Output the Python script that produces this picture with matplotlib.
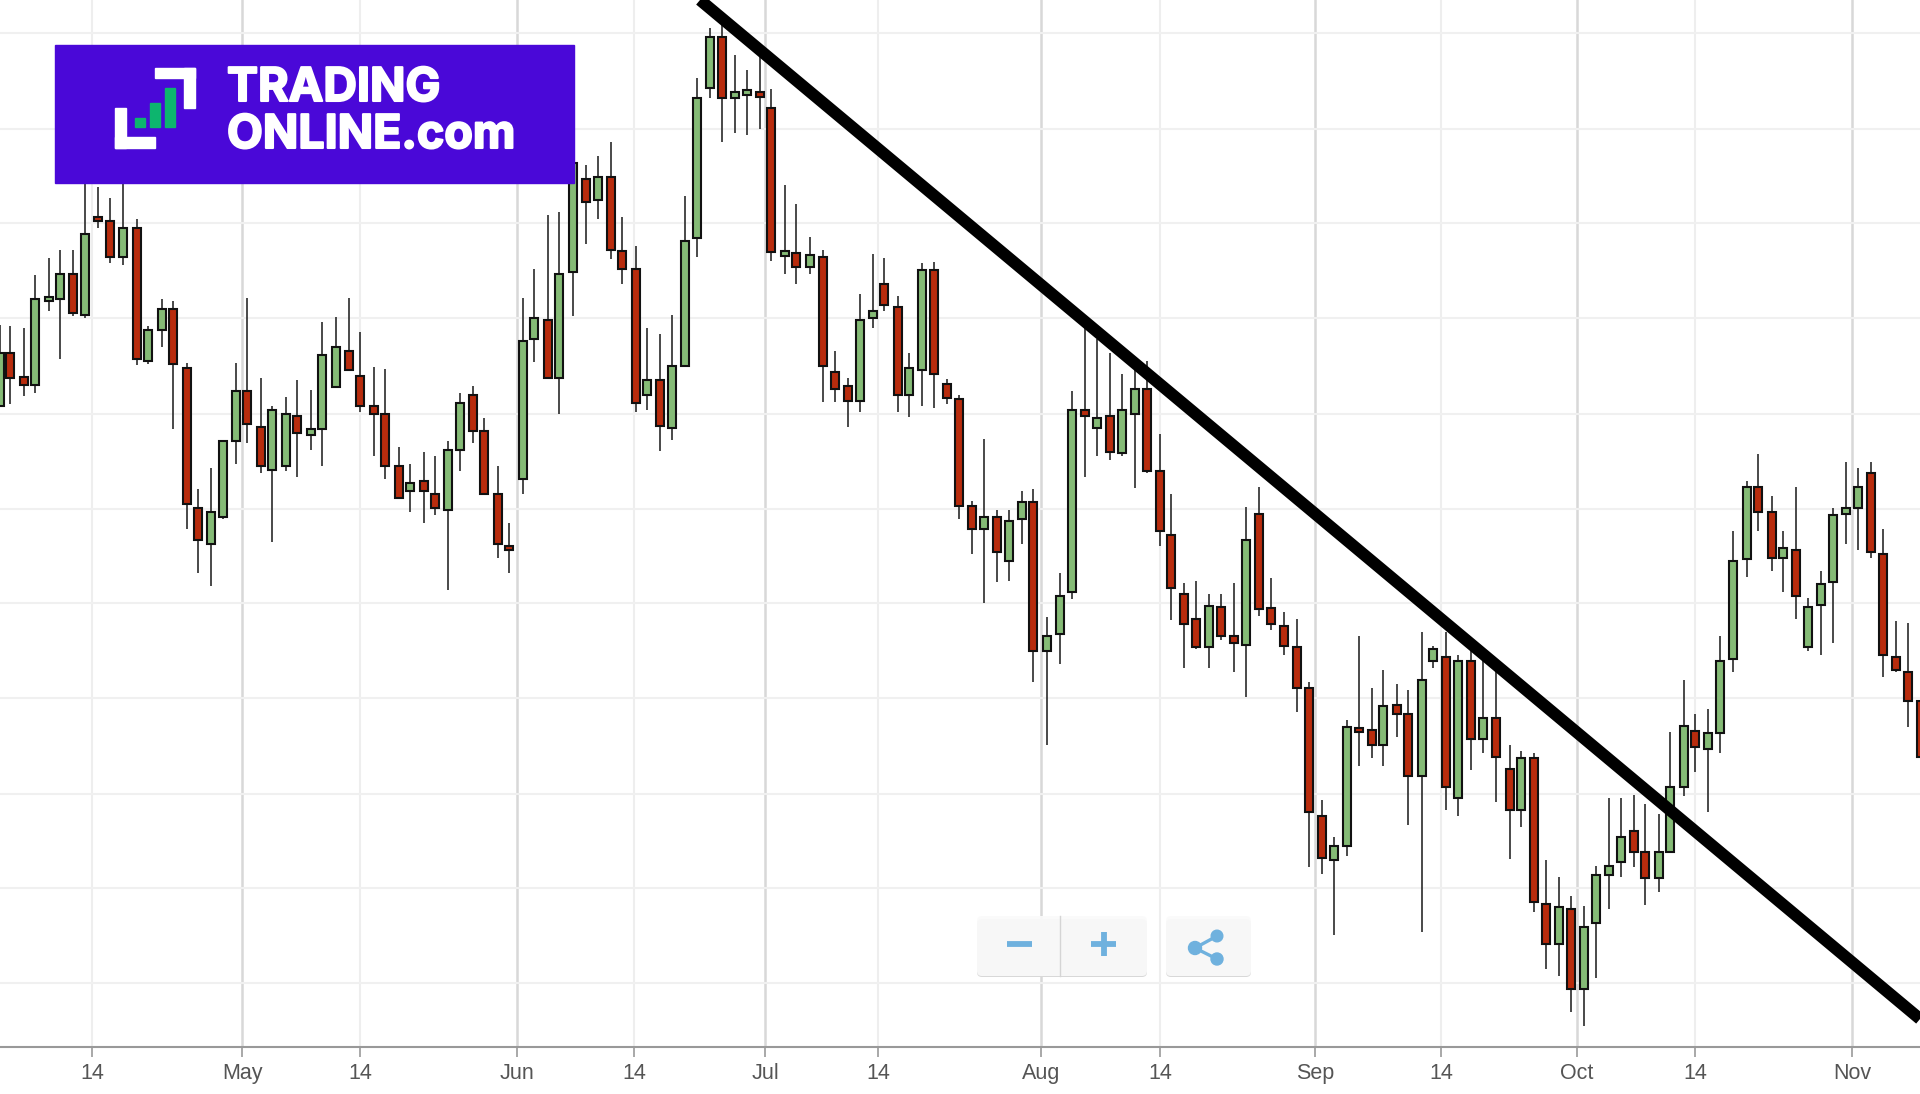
import numpy as np
import matplotlib
matplotlib.use("Agg")
import matplotlib.pyplot as plt
import matplotlib.patheffects as pe
from matplotlib.patches import Circle, FancyBboxPatch, Rectangle

# No price scale on the chart, so levels are measured down from the top of the plot.
# Each row: position on the time axis, wick top, body top, body bottom, wick bottom
candles = np.array([
    (0, 325, 353, 406, 406), (10, 326, 353, 378, 404), (24, 328, 377, 385, 396), (35, 275, 299, 385, 393),
    (49, 258, 297, 301, 311), (60, 250, 274, 299, 359), (73, 250, 274, 313, 316), (85, 150, 234, 315, 318),
    (98, 187, 217, 221, 228), (110, 198, 221, 257, 263), (123, 165, 228, 257, 265), (137, 219, 228, 359, 365),
    (148, 326, 330, 361, 364), (162, 299, 309, 330, 347), (173, 301, 309, 364, 429), (187, 363, 368, 504, 529),
    (198, 489, 508, 540, 573), (211, 468, 512, 544, 586), (223, 440, 441, 517, 519), (236, 363, 391, 441, 464),
    (247, 298, 391, 424, 443), (261, 378, 427, 466, 473), (272, 406, 410, 470, 542), (286, 397, 414, 466, 471),
    (297, 380, 416, 433, 477), (311, 390, 429, 435, 450), (322, 322, 355, 429, 466), (336, 317, 347, 387, 387),
    (349, 298, 351, 370, 370), (360, 332, 376, 406, 412), (374, 367, 406, 414, 456), (385, 369, 414, 466, 479),
    (399, 447, 466, 498, 499), (410, 464, 483, 491, 512), (424, 452, 481, 491, 523), (435, 456, 494, 508, 515),
    (448, 441, 450, 510, 590), (460, 393, 403, 450, 471), (473, 386, 395, 431, 443), (484, 418, 431, 494, 494),
    (498, 466, 494, 544, 558), (509, 523, 546, 550, 573), (523, 298, 341, 479, 494), (534, 269, 318, 339, 362),
    (548, 215, 320, 378, 378), (559, 212, 274, 378, 414), (573, 145, 163, 272, 316), (586, 165, 179, 202, 244),
    (598, 156, 177, 200, 219), (611, 142, 177, 250, 259), (622, 217, 251, 269, 284), (636, 246, 269, 403, 412),
    (647, 328, 380, 395, 410), (660, 334, 380, 426, 451), (672, 315, 366, 428, 440), (685, 196, 241, 366, 366),
    (697, 78, 98, 238, 257), (710, 28, 37, 88, 98), (722, 20, 37, 98, 142), (735, 55, 92, 98, 133),
    (747, 70, 90, 95, 135), (760, 51, 92, 97, 129), (771, 89, 108, 252, 261), (785, 185, 251, 256, 274),
    (796, 204, 253, 267, 284), (810, 237, 255, 267, 274), (823, 250, 257, 366, 402), (835, 351, 372, 389, 402),
    (848, 378, 386, 401, 427), (860, 294, 320, 401, 412), (873, 254, 311, 318, 328), (884, 258, 284, 305, 311),
    (898, 296, 307, 395, 412), (909, 353, 368, 395, 417), (922, 263, 270, 370, 406), (934, 262, 270, 374, 408),
    (947, 379, 384, 398, 404), (959, 395, 399, 506, 519), (972, 501, 506, 529, 554), (984, 439, 517, 529, 603),
    (997, 510, 517, 552, 582), (1009, 510, 521, 561, 581), (1022, 491, 502, 519, 544), (1033, 489, 502, 651, 682),
    (1047, 617, 636, 651, 745), (1060, 573, 596, 634, 664), (1072, 391, 410, 592, 599), (1085, 324, 410, 416, 477),
    (1097, 339, 418, 428, 456), (1110, 353, 416, 452, 460), (1122, 374, 410, 453, 456), (1135, 365, 389, 414, 488),
    (1147, 361, 389, 471, 473), (1160, 434, 471, 531, 546), (1171, 494, 535, 588, 620), (1184, 583, 594, 624, 668),
    (1196, 581, 619, 647, 649), (1209, 594, 606, 647, 668), (1221, 594, 607, 636, 640), (1234, 583, 636, 643, 672),
    (1246, 507, 540, 645, 697), (1259, 487, 514, 609, 616), (1271, 578, 608, 624, 630), (1284, 612, 626, 646, 655),
    (1297, 619, 647, 688, 712), (1309, 682, 688, 812, 867), (1322, 800, 816, 858, 874), (1334, 837, 846, 860, 935),
    (1347, 720, 727, 846, 856), (1359, 636, 728, 732, 766), (1372, 688, 730, 745, 758), (1383, 670, 706, 745, 766),
    (1397, 684, 705, 714, 737), (1408, 690, 714, 776, 825), (1422, 632, 680, 776, 932), (1433, 646, 649, 661, 668),
    (1446, 632, 657, 787, 810), (1458, 655, 661, 798, 816), (1471, 651, 661, 739, 770), (1483, 659, 718, 739, 753),
    (1496, 668, 718, 757, 802), (1510, 745, 769, 810, 859), (1521, 751, 758, 810, 827), (1534, 753, 758, 902, 912),
    (1546, 860, 904, 944, 969), (1559, 877, 907, 944, 976), (1571, 896, 909, 989, 1012), (1584, 906, 927, 989, 1026),
    (1596, 866, 875, 923, 978), (1609, 798, 866, 875, 909), (1621, 798, 837, 862, 877), (1634, 795, 831, 852, 867),
    (1645, 804, 852, 878, 905), (1659, 814, 852, 878, 892), (1670, 732, 787, 852, 852), (1684, 680, 726, 787, 796),
    (1695, 714, 731, 747, 772), (1708, 709, 733, 749, 812), (1720, 636, 661, 733, 753), (1733, 531, 561, 659, 672),
    (1747, 481, 487, 559, 577), (1758, 454, 487, 512, 531), (1772, 496, 512, 558, 571), (1783, 531, 548, 558, 592),
    (1796, 487, 550, 596, 619), (1808, 598, 607, 647, 651), (1821, 571, 584, 605, 655), (1833, 508, 515, 582, 643),
    (1846, 462, 508, 514, 544), (1858, 468, 487, 508, 550), (1871, 462, 473, 552, 558), (1883, 529, 554, 655, 677),
    (1896, 621, 657, 670, 672), (1908, 623, 672, 701, 727), (1921, 660, 701, 757, 770),
])

# time positions of the rising days, everything else is a falling day
rising_days = {0, 35, 49, 60, 85, 123, 148, 162, 211, 223, 236, 272, 286, 311, 322, 336, 410, 448, 460, 523, 534,
               559, 573, 598, 647, 672, 685, 697, 710, 735, 747, 785, 810, 860, 873, 909, 922, 984, 1009, 1022,
               1047, 1060, 1072, 1097, 1122, 1135, 1209, 1246, 1334, 1347, 1383, 1422, 1433, 1458, 1483, 1521,
               1559, 1584, 1596, 1609, 1621, 1659, 1670, 1684, 1708, 1720, 1733, 1747, 1783, 1808, 1821, 1833,
               1846, 1858}

major_ticks = [242, 517, 765, 1041, 1315, 1577, 1852]
major_labels = ["May", "Jun", "Jul", "Aug", "Sep", "Oct", "Nov"]
minor_ticks = [92, 360, 634, 878, 1160, 1441, 1695]
minor_labels = ["14"] * len(minor_ticks)
grid_levels = [33, 129, 223, 318, 414, 509, 603, 698, 794, 888, 983]

trend_x = [700, 1920]
trend_y = [0, 1019]

GREEN = "#85bb76"
RED = "#b82c0d"
TICK_GREY = "#999999"
ICON_BLUE = "#6fb1de"

plt.rcParams["font.family"] = ["Liberation Sans", "DejaVu Sans"]

fig = plt.figure(figsize=(19.2, 10.94), dpi=100)
ax = fig.add_axes([0, 47 / 1094, 1, 1047 / 1094])
ax.set_xlim(0, 1920)
ax.set_ylim(1047, 0)

for side in ["top", "left", "right"]:
    ax.spines[side].set_visible(False)
ax.spines["bottom"].set_color(TICK_GREY)
ax.spines["bottom"].set_linewidth(1.5)

ax.set_xticks(major_ticks, major_labels)
ax.set_xticks(minor_ticks, minor_labels, minor=True)
ax.set_yticks(grid_levels)
ax.tick_params(axis="y", left=False, labelleft=False)
ax.tick_params(axis="x", which="both", length=7.5, width=1.2, color=TICK_GREY,
               labelcolor="#555555", labelsize=15.5, pad=4)
ax.set_axisbelow(True)
ax.grid(axis="y", color="#f0f0f0", linewidth=1.5)
ax.grid(axis="x", which="major", color="#d8d8d8", linewidth=1.8)
ax.grid(axis="x", which="minor", color="#eeeeee", linewidth=1.5)

x, wick_top, body_top, body_bottom, wick_bottom = candles.T
colors = [GREEN if int(v) in rising_days else RED for v in x]

ax.vlines(x, wick_top, wick_bottom, color="#2a2a2a", linewidth=1.2, zorder=2)
ax.bar(x, body_bottom - body_top, bottom=body_top, width=8, color=colors,
       edgecolor="#111111", linewidth=1.5, zorder=3)

ax.plot(trend_x, trend_y, color="black", linewidth=8.6, solid_capstyle="butt", zorder=4)

# logo banner
ax.add_patch(Rectangle((55, 45), 519, 138, color="#4a08d8", zorder=5))
for rx, ry, rw, rh in [(115, 108, 11, 40), (115, 137, 40, 11), (155, 68, 40, 10), (184, 68, 11, 40)]:
    ax.add_patch(Rectangle((rx, ry), rw, rh, color="white", zorder=6))
for rx, ry, rh in [(135, 118, 9), (150, 103, 24), (165, 88, 39)]:
    ax.add_patch(Rectangle((rx, ry), 10, rh, color="#0db56e", zorder=6))
logo_stroke = [pe.withStroke(linewidth=1.5, foreground="white")]
ax.text(227, 101, "TRADING", family="Inter", weight="bold", fontsize=33.5, color="white",
        va="baseline", ha="left", zorder=6, path_effects=logo_stroke)
ax.text(227, 148, "ONLINE.com", family="Inter", weight="bold", fontsize=33.5, color="white",
        va="baseline", ha="left", zorder=6, path_effects=logo_stroke)

# zoom and share buttons
for bx, bw in [(977, 170), (1166, 85)]:
    ax.add_patch(FancyBboxPatch((bx, 919), bw, 58, boxstyle="round,pad=0,rounding_size=5",
                                fc="#d8d8d8", ec="none", zorder=5))
    ax.add_patch(FancyBboxPatch((bx, 916), bw, 60, boxstyle="round,pad=0,rounding_size=5",
                                fc="#fafafa", ec="none", alpha=0.93, zorder=5))
ax.plot([1060, 1060], [916, 976], color="#d5d5d5", linewidth=1, zorder=6)
ax.plot([1007, 1032], [944, 944], color=ICON_BLUE, linewidth=4.2, solid_capstyle="butt", zorder=6)
ax.plot([1091, 1116], [944, 944], color=ICON_BLUE, linewidth=4.2, solid_capstyle="butt", zorder=6)
ax.plot([1103.5, 1103.5], [932, 956], color=ICON_BLUE, linewidth=4.2, solid_capstyle="butt", zorder=6)
ax.plot([1217, 1195, 1217], [936, 948, 959], color=ICON_BLUE, linewidth=2.4, zorder=6)
for cx, cy, r in [(1195, 948, 6.5), (1217, 936, 5.8), (1217, 959, 6)]:
    ax.add_patch(Circle((cx, cy), r, color=ICON_BLUE, zorder=6))

fig.savefig("out.png", dpi=100)
